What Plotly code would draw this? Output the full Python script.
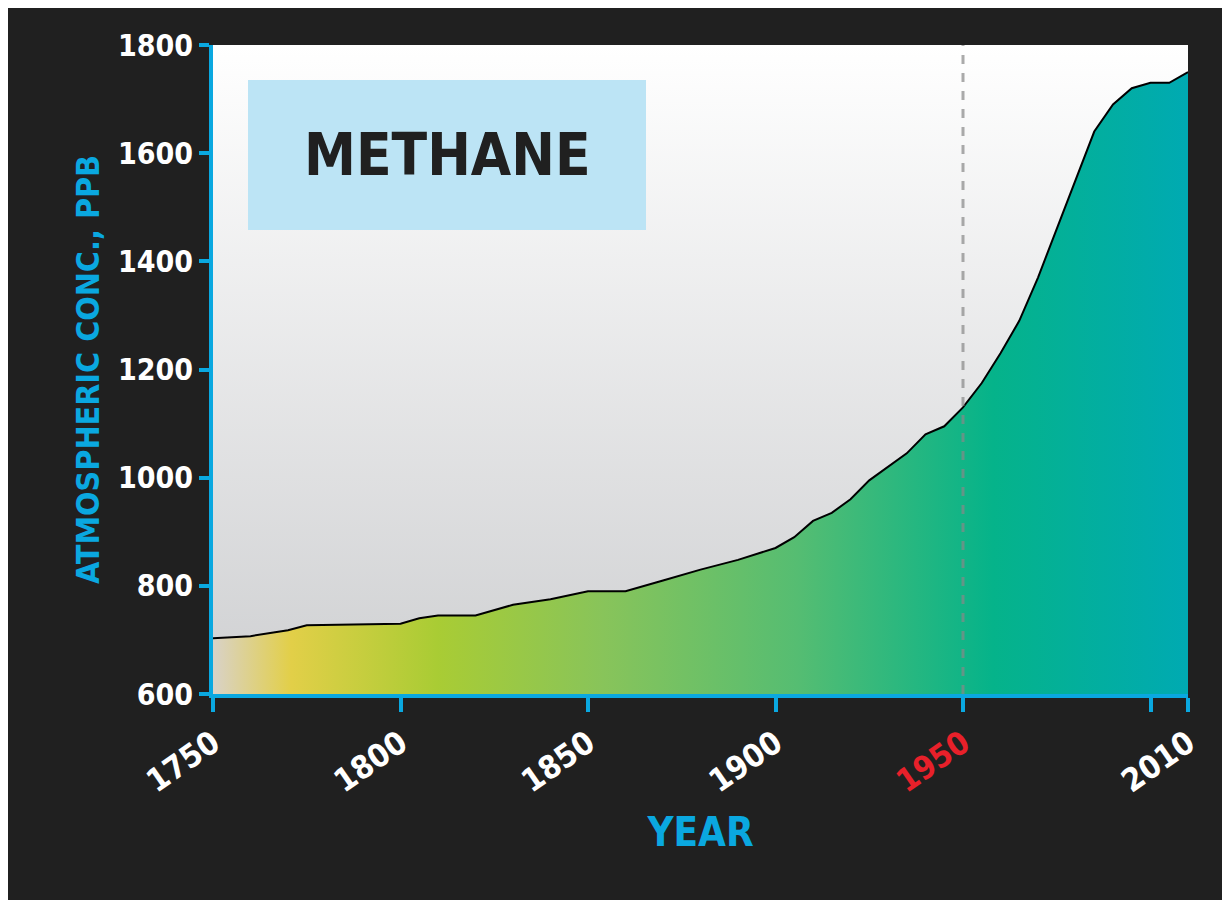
import plotly.graph_objects as go

years = [1750,1760,1770,1775,1800,1805,1810,1820,1830,1840,1850,1860,1870,1880,1890,1900,1905,1910,1915,1920,1925,1930,1935,1940,1945,1950,1955,1960,1965,1970,1975,1980,1985,1990,1995,2000,2005,2010]
ch4 = [703,707,718,727,730,740,745,745,765,775,790,790,810,830,848,870,890,920,935,960,995,1020,1045,1080,1095,1130,1175,1230,1290,1370,1460,1550,1640,1690,1720,1730,1730,1750]
tick_vals = [1750,1800,1850,1900,1950,2000,2010]
tick_text = ["1750","1800","1850","1900","<span style='color:#e8202a'><b>1950</b></span>","","2010"]

FONT = "DejaVu Sans Condensed, Liberation Sans Narrow, Roboto"
fig = go.Figure()
fig.add_trace(go.Scatter(x=[1750,2010,2010,1750,1750], y=[600,600,1800,1800,600], mode="lines",
    line=dict(width=0), fill="toself",
    fillgradient=dict(type="vertical", colorscale=[[0,"#cfd0d2"],[1,"#ffffff"]]),
    hoverinfo="skip", showlegend=False))
fig.add_trace(go.Scatter(x=years, y=ch4, mode="lines", line=dict(color="black", width=2),
    fill="tozeroy",
    fillgradient=dict(type="horizontal", colorscale=[
        [0,"#d9d2c8"],[0.08,"#e2cf48"],[0.23,"#a9cc34"],[0.4,"#88c45a"],[0.6,"#55bd72"],
        [0.8,"#05b38a"],[1,"#00aab2"]]),
    showlegend=False))
fig.add_shape(type="line", x0=1950, x1=1950, y0=600, y1=1800, line=dict(color="#888", width=3, dash="dash"), opacity=0.7)
fig.add_shape(type="rect", xref="paper", yref="paper", x0=(240-205)/975, x1=(638-205)/975,
    y0=(686-222)/649, y1=(686-72)/649, fillcolor="#b8e3f4", line=dict(width=0), opacity=0.95)
fig.add_annotation(xref="paper", yref="paper", x=(439-205)/975, y=(686-147)/649, text="<b>METHANE</b>",
    xanchor="center", yanchor="middle",
    showarrow=False, font=dict(family=FONT, size=58, color="#202020"))
fig.update_layout(
    width=1230, height=900, paper_bgcolor="#202020", plot_bgcolor="#202020",
    margin=dict(l=205, r=50, t=37, b=214),
    xaxis=dict(range=[1750,2010], tickvals=tick_vals, ticktext=tick_text, tickangle=-35,
        showgrid=False, zeroline=False, showline=True, linecolor="#0aa8e0", linewidth=4,
        ticks="outside", tickcolor="#0aa8e0", tickwidth=4, ticklen=14,
        tickfont=dict(family=FONT, size=32, color="white", weight="bold"),
        title=dict(text="YEAR", font=dict(family=FONT, size=40, color="#0aa8e0", weight="bold"), standoff=20)),
    yaxis=dict(range=[600,1800], tickvals=[600,800,1000,1200,1400,1600,1800],
        showgrid=False, zeroline=False, showline=True, linecolor="#0aa8e0", linewidth=4,
        ticks="outside", tickcolor="#0aa8e0", tickwidth=4, ticklen=10,
        tickfont=dict(family=FONT, size=30, color="white", weight="bold"),
        title=dict(text="ATMOSPHERIC CONC., PPB", font=dict(family=FONT, size=32, color="#0aa8e0", weight="bold"), standoff=10)),
)
fig.write_html("out.html")
